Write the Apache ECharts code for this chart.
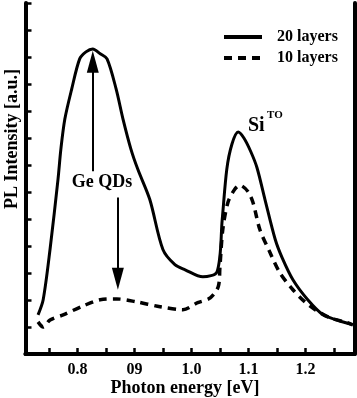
<!DOCTYPE html>
<html>
<head>
<meta charset="utf-8">
<script src="https://cdn.jsdelivr.net/npm/echarts@6/dist/echarts.min.js"></script>
<style>
  html, body { margin: 0; padding: 0; background: #fff; }
  #chart { width: 357px; height: 398px; }
</style>
</head>
<body>
<div id="chart"></div>
<script>
  // photon energy [eV] / intensity [a.u., in tick units]
  const xSolid = [0.731, 0.740, 0.752, 0.766, 0.771, 0.778, 0.790, 0.804, 0.815, 0.827, 0.840, 0.852, 0.868, 0.880, 0.894, 0.906, 0.927, 0.950, 0.971, 0.989, 1.020, 1.045, 1.054, 1.062, 1.071, 1.082, 1.092, 1.104, 1.115, 1.129, 1.147, 1.159, 1.178, 1.204, 1.231, 1.255, 1.283]
  const ySolid = [1.45, 2.01, 3.87, 6.47, 7.58, 8.70, 9.81, 10.93, 11.19, 11.30, 11.12, 10.93, 9.81, 8.70, 7.58, 6.84, 5.72, 3.87, 3.31, 3.12, 2.86, 3.05, 4.98, 6.84, 7.77, 8.22, 8.00, 7.50, 6.90, 5.72, 4.24, 3.57, 2.75, 2.01, 1.45, 1.26, 1.08]
  const xDashed = [0.731, 0.740, 0.752, 0.775, 0.810, 0.840, 0.869, 0.904, 0.945, 0.985, 1.011, 1.033, 1.047, 1.050, 1.055, 1.064, 1.076, 1.085, 1.099, 1.108, 1.120, 1.138, 1.155, 1.178, 1.199, 1.217, 1.243, 1.269, 1.283]
  const yDashed = [1.19, 1.00, 1.26, 1.45, 1.78, 2.01, 2.04, 1.93, 1.75, 1.64, 1.90, 2.08, 2.49, 3.23, 4.61, 5.61, 6.10, 6.25, 6.02, 5.61, 4.61, 3.75, 3.01, 2.38, 1.93, 1.64, 1.34, 1.19, 1.08]
  const seriesNames = ['20 layers', '10 layers']
  const xTickValues = [0.75, 0.8, 0.85, 0.9, 0.95, 1.0, 1.05, 1.1, 1.15, 1.2, 1.25]
  const xLabelValues = [0.8, 0.9, 1.0, 1.1, 1.2]
  const xLabelTexts = ['0.8', '09', '1.0', '1.1', '1.2']

  const font = 'Liberation Serif'
  const zip = (xs, ys) => xs.map((x, i) => [x, ys[i]])

  const chart = echarts.init(document.getElementById('chart'))

  const frameLine = { show: true, lineStyle: { color: '#000', width: 4 } }
  const tick = { show: true, inside: true, length: 6, lineStyle: { color: '#000', width: 2.5 } }

  const option = {
    animation: false,
    backgroundColor: '#fff',
    grid: { left: 25.5, right: 2.5, top: 3, bottom: 44, outerBoundsMode: 'none' },
    legend: {
      orient: 'vertical',
      left: 217,
      top: 24,
      itemWidth: 38,
      itemHeight: 12,
      itemGap: 5,
      data: seriesNames,
      itemStyle: { opacity: 0 },
      lineStyle: { width: 4 },
      textStyle: { fontFamily: font, fontWeight: 'bold', fontSize: 16, color: '#000', padding: [0, 0, 0, 10] }
    },
    xAxis: [
      {
        type: 'value',
        min: 0.709,
        max: 1.286,
        name: 'Photon energy [eV]',
        nameLocation: 'middle',
        nameGap: 25,
        nameMoveOverlap: false,
        nameTextStyle: { fontFamily: font, fontWeight: 'bold', fontSize: 18, color: '#000', padding: [0, 10, 0, 0] },
        axisLine: frameLine,
        axisTick: Object.assign({ customValues: xTickValues }, tick),
        splitLine: { show: false },
        axisLabel: {
          customValues: xLabelValues,
          margin: 8,
          fontFamily: font,
          fontWeight: 'bold',
          fontSize: 16,
          color: '#000',
          formatter: (v) => xLabelTexts[xLabelValues.findIndex((l) => Math.abs(l - v) < 1e-6)]
        }
      },
      {
        type: 'value',
        position: 'top',
        min: 0.709,
        max: 1.286,
        axisLine: frameLine,
        axisTick: { show: false },
        axisLabel: { show: false },
        splitLine: { show: false }
      }
    ],
    yAxis: [
      {
        type: 'value',
        min: 0,
        max: 13,
        interval: 1,
        axisLine: frameLine,
        axisTick: tick,
        axisLabel: { show: false },
        splitLine: { show: false }
      },
      {
        type: 'value',
        position: 'right',
        min: 0,
        max: 13,
        interval: 1,
        axisLine: frameLine,
        axisTick: { show: false },
        axisLabel: { show: false },
        splitLine: { show: false }
      }
    ],
    graphic: [
      {
        type: 'text',
        x: 12,
        y: 139,
        rotation: Math.PI / 2,
        style: { text: 'PL Intensity [a.u.]', font: 'bold 18px "Liberation Serif"', fill: '#000', align: 'center', verticalAlign: 'middle' }
      },
      {
        type: 'text',
        x: 102,
        y: 182,
        style: { text: 'Ge QDs', font: 'bold 18px "Liberation Serif"', fill: '#000', align: 'center', verticalAlign: 'middle' }
      },
      {
        type: 'text',
        x: 248,
        y: 126,
        style: { text: 'Si', font: 'bold 20px "Liberation Serif"', fill: '#000', align: 'left', verticalAlign: 'middle' }
      },
      {
        type: 'text',
        x: 267,
        y: 115,
        style: { text: 'TO', font: 'bold 11px "Liberation Serif"', fill: '#000', align: 'left', verticalAlign: 'middle' }
      }
    ],
    series: [
      {
        name: seriesNames[0],
        type: 'line',
        data: zip(xSolid, ySolid),
        symbol: 'none',
        smooth: 0.3,
        lineStyle: { color: '#000', width: 3 },
        itemStyle: { color: '#000' },
        markLine: {
          silent: true,
          symbol: ['none', 'triangle'],
          symbolSize: [12, 22],
          label: { show: false },
          lineStyle: { color: '#000', width: 2, type: 'solid' },
          data: [
            [{ coord: [0.827, 6.77] }, { coord: [0.827, 10.82] }],
            [{ coord: [0.871, 5.80] }, { coord: [0.871, 2.79] }]
          ]
        }
      },
      {
        name: seriesNames[1],
        type: 'line',
        data: zip(xDashed, yDashed),
        symbol: 'none',
        smooth: 0.3,
        lineStyle: { color: '#000', width: 3.5, type: [8, 6] },
        itemStyle: { color: '#000' }
      }
    ]
  }

  chart.setOption(option)
</script>
</body>
</html>
